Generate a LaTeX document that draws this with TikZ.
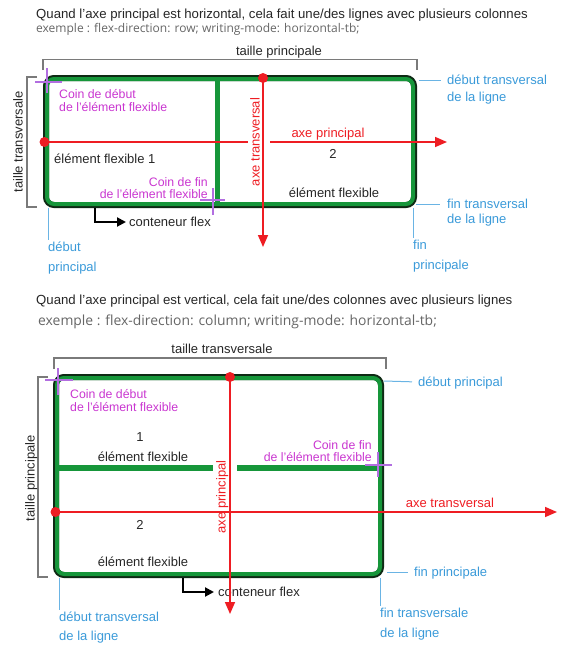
\documentclass[tikz,border=0pt]{standalone}
\usepackage{fontspec}
\setmainfont{Liberation Sans}
\newfontfamily\exfont{Open Sans}
\usetikzlibrary{arrows.meta}
\definecolor{fxGreen}{HTML}{16963A}
\definecolor{fxDark}{HTML}{0E2A14}
\definecolor{fxRed}{HTML}{EE1D23}
\definecolor{fxMag}{HTML}{C936D0}
\definecolor{fxCross}{HTML}{B26EE0}
\definecolor{fxBlue}{HTML}{3A9AD9}
\definecolor{fxLine}{HTML}{6AB4E4}
\definecolor{fxGray}{HTML}{7A7A7A}
\definecolor{fxText}{HTML}{666666}

\begin{document}
\begin{tikzpicture}[x=1pt, y=-1pt,
    lbl/.style={inner sep=0, text height=11.5pt, text depth=2.5pt,
      font=\fontsize{13}{15}\selectfont, text=black!85},
    title/.style={lbl, font=\fontsize{13.2}{15}\selectfont},
    example/.style={lbl, text=fxText, font=\exfont\fontsize{12}{14}\selectfont},
    mag/.style={lbl, text=fxMag, font=\fontsize{12.3}{14}\selectfont},
    redlbl/.style={lbl, text=fxRed},
    blue/.style={lbl, text=fxBlue},
    frame/.style={draw=fxDark, line width=6, rounded corners=8},
    framein/.style={draw=fxGreen, line width=4, rounded corners=7},
    divider/.style={draw=fxGreen, line width=5},
    cross/.style={draw=fxCross, line width=1.2},
    bracket/.style={draw=fxGray, line width=1.2},
    lead/.style={draw=fxLine, line width=1},
    axisline/.style={draw=fxRed, line width=1.6},
    axis/.style={axisline, -{Triangle[length=12,width=10]}},
    dot/.style={circle, fill=fxRed, inner sep=0, minimum size=10},
    flexarrow/.style={draw=black, line width=2, -{Triangle[length=9,width=9]}}]
  \useasboundingbox (0,0) rectangle (563,653);

  % --- main axis horizontal ---
  \node[title, anchor=west] (title1) at (36,14)
    {Quand l’axe principal est horizontal, cela fait une/des lignes avec plusieurs colonnes};
  \node[example, anchor=west] (ex1) at (36,28)
    {exemple : flex-direction: row; writing-mode: horizontal-tb;};
  \draw[bracket] (43,70) -- (43,59.5) -- (417,59.5) -- (417,70);
  \draw[bracket] (37,77) -- (27,77) -- (27,207) -- (37,207);
  \node[lbl] (tp1) at (279,51) {taille principale};
  \node[lbl, rotate=90] (tt1) at (18,142) {taille transversale};

  \draw[frame] (46,78) rectangle (414,205);
  \draw[framein] (47,79) rectangle (413,204);
  \draw[divider] (217,81) -- (217,202);
  \draw[cross] (35,82) -- (62,82) (47,68) -- (47,93);
  \draw[cross] (200,200) -- (225,200) (213,188) -- (213,215);

  \node[mag, anchor=west] (cd1a) at (59,94) {Coin de début};
  \node[mag, anchor=west] (cd1b) at (59,107) {de l’élément flexible};
  \node[lbl, anchor=west] (el1) at (54,159) {élément flexible 1};
  \node[mag, anchor=east] (cf1a) at (208,182) {Coin de fin};
  \node[mag, anchor=east] (cf1b) at (208,194) {de l’élément flexible};
  \node[redlbl] (ap1) at (328,133) {axe principal};
  \node[lbl] (n2a) at (333,154) {2};
  \node[lbl] (el2) at (334,193) {élément flexible};
  \node[redlbl, rotate=90] (at1) at (255,142) {axe transversal};
  \node[lbl, anchor=west] (cf1) at (129,222) {conteneur flex};

  \node[blue, anchor=west] (b1a) at (447,80) {début transversal};
  \node[blue, anchor=west] (b1b) at (447,97) {de la ligne};
  \node[blue, anchor=west] (b2a) at (447,204) {fin transversal};
  \node[blue, anchor=west] (b2b) at (447,219) {de la ligne};
  \node[blue, anchor=west] (b3a) at (413,245) {fin};
  \node[blue, anchor=west] (b3b) at (413,265) {principale};
  \node[blue, anchor=west] (b4a) at (48,247) {début};
  \node[blue, anchor=west] (b4b) at (48,267) {principal};

  \coordinate (l1) at (419,80);
  \coordinate (l2) at (416,204);
  \coordinate (l3) at (413,208);
  \coordinate (l4) at (48,208);
  \draw[lead, shorten >=6] (l1) -- (b1a.west);
  \draw[lead, shorten >=7] (l2) -- (b2a.west);
  \draw[lead] (l3) -- (b3a.north west);
  \draw[lead] (l4) -- (b4a.north west);

  \coordinate (cfs1) at (95,208);
  \draw[flexarrow, shorten >=3] (cfs1) |- (cf1.west);

  \node[dot] (dotT1) at (263,78) {};
  \node[dot] (dotL1) at (44.5,142) {};
  \coordinate (tipT1) at (263,247);
  \coordinate (tipL1) at (447,142);
  \coordinate (gapA1) at (248,142);
  \coordinate (gapB1) at (270,142);
  \draw[axisline] (dotL1.center) -- (gapA1);
  \draw[axis] (gapB1) -- (tipL1);
  \draw[axis] (dotT1.center) -- (tipT1);

  % --- main axis vertical ---
  \node[title, anchor=west] (title2) at (36,300)
    {Quand l’axe principal est vertical, cela fait une/des colonnes avec plusieurs lignes};
  \node[example, anchor=west, font=\exfont\fontsize{13.9}{16}\selectfont] (ex2) at (38,321)
    {exemple : flex-direction: column; writing-mode: horizontal-tb;};
  \draw[bracket] (54,369) -- (54,358) -- (386,358) -- (386,369);
  \draw[bracket] (48,377) -- (38,377) -- (38,577) -- (48,577);
  \node[lbl] (tt2) at (222,349) {taille transversale};
  \node[lbl, rotate=90] (tp2) at (30,478) {taille principale};

  \draw[frame] (56,377) rectangle (381,575);
  \draw[framein] (57,378) rectangle (380,574);
  \draw[divider, line width=6] (59,468) -- (213,468) (237,468) -- (378,468);
  \draw[cross] (45,380) -- (73,380) (58,368) -- (58,395);
  \draw[cross] (365,465) -- (392,465) (378,452) -- (378,477);

  \node[mag, anchor=west] (cd2a) at (70,394) {Coin de début};
  \node[mag, anchor=west] (cd2b) at (70,407) {de l’élément flexible};
  \node[lbl] (n1b) at (140,437) {1};
  \node[lbl] (el3) at (143,457) {élément flexible};
  \node[mag, anchor=east] (cf2a) at (372,445) {Coin de fin};
  \node[mag, anchor=east] (cf2b) at (372,457) {de l’élément flexible};
  \node[lbl] (n2b) at (140,525) {2};
  \node[lbl] (el4) at (143,562) {élément flexible};
  \node[redlbl] (at2) at (450,503) {axe transversal};
  \node[redlbl, rotate=90] (ap2) at (221,497) {axe principal};
  \node[lbl, anchor=west] (cf2) at (218,592) {conteneur flex};

  \node[blue, anchor=west] (b5) at (418,382) {début principal};
  \node[blue, anchor=west] (b6) at (414,572) {fin principale};
  \node[blue, anchor=west] (b7a) at (380,613) {fin transversale};
  \node[blue, anchor=west] (b7b) at (380,633) {de la ligne};
  \node[blue, anchor=west] (b8a) at (59,617) {début transversal};
  \node[blue, anchor=west] (b8b) at (59,636) {de la ligne};

  \coordinate (l5) at (384,381);
  \coordinate (l6) at (387,572);
  \coordinate (l7) at (380,578);
  \coordinate (l8) at (59,578);
  \draw[lead, shorten >=6] (l5) -- (b5.west);
  \draw[lead, shorten >=6] (l6) -- (b6.west);
  \draw[lead] (l7) -- (b7a.north west);
  \draw[lead] (l8) -- (b8a.north west);

  \coordinate (cfs2) at (183,578);
  \draw[flexarrow, shorten >=4] (cfs2) |- (cf2.west);

  \node[dot] (dotT2) at (230,377) {};
  \node[dot] (dotL2) at (55.5,512) {};
  \coordinate (tipT2) at (230,614);
  \coordinate (tipL2) at (557,512);
  \draw[axis] (dotL2.center) -- (tipL2);
  \draw[axis] (dotT2.center) -- (tipT2);
\end{tikzpicture}
\end{document}
